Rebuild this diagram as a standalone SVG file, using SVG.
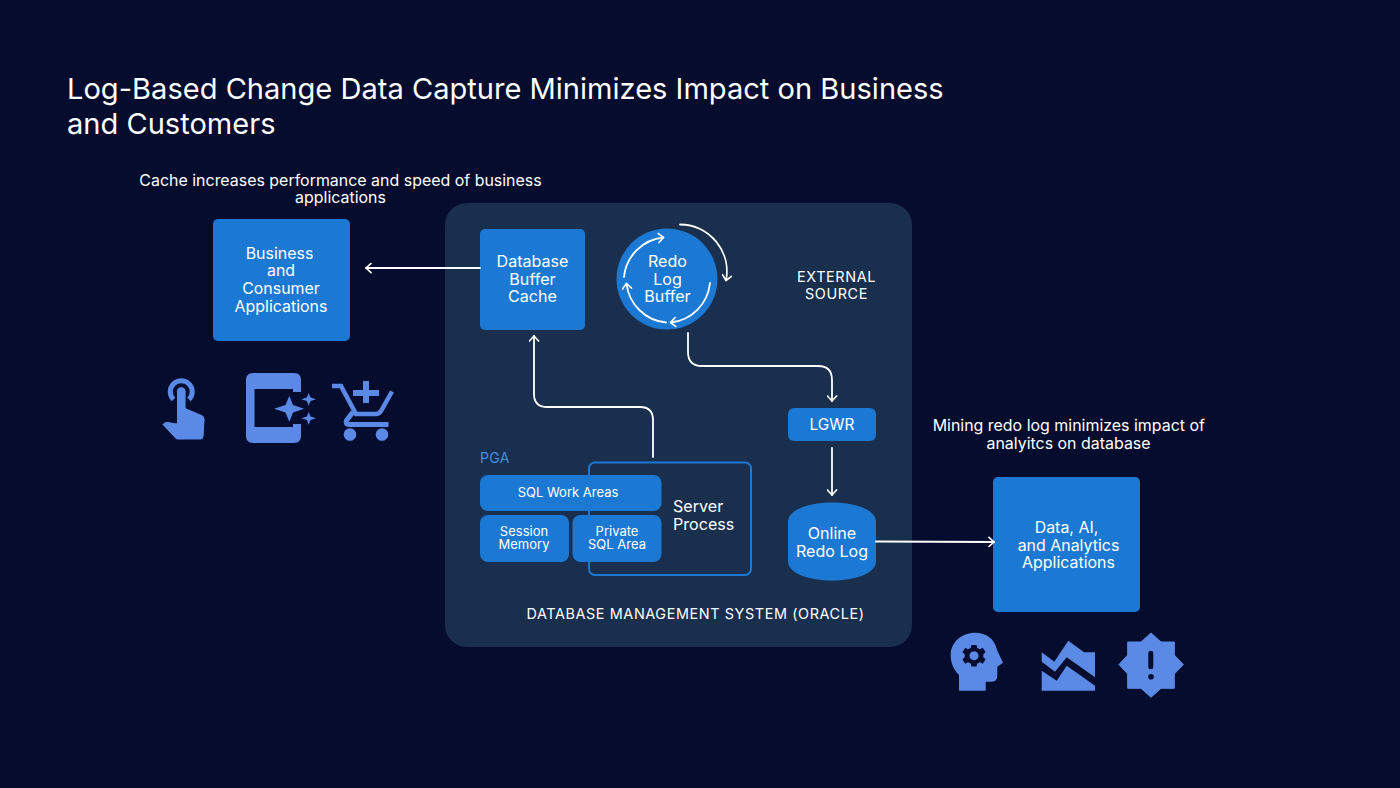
<svg xmlns="http://www.w3.org/2000/svg" width="1400" height="788" viewBox="0 0 1400 788">
<style>
text{font-family:Inter,"Noto Sans","Liberation Sans",sans-serif;fill:#fff;text-anchor:middle}
.box{fill:#1b79d3}
.n{font-size:15.95px}
.m{font-size:16.1px}
.s{font-size:13px}
.u{font-size:14.4px;letter-spacing:.6px}
.c{fill:none;stroke:#fff;stroke-width:1.8;stroke-linecap:round;stroke-linejoin:round}
.ic{fill:#5b8ae6}
.ch{fill:#060c2e}
</style>
<defs>
<marker id="a" viewBox="0 0 12 12" refX="11" refY="6" markerWidth="11" markerHeight="11" markerUnits="userSpaceOnUse" orient="auto"><path d="M5.5 1 L11 6 L5.5 11" fill="none" stroke="#fff" stroke-width="1.8" stroke-linecap="round" stroke-linejoin="round"/></marker>
</defs>
<rect width="1400" height="788" fill="#060c2e"/>
<text x="67" y="99" font-size="29.07" style="text-anchor:start">Log-Based Change Data Capture Minimizes Impact on Business</text>
<text x="67" y="134" font-size="29.07" style="text-anchor:start">and Customers</text>
<rect id="dbms" x="445" y="203" width="467" height="444" rx="22" fill="#1a2f4e"/>
<text x="340.500" y="186" class="n">Cache increases performance and speed of business</text>
<text x="340.500" y="203" class="n">applications</text>
<text x="1068.800" y="431" class="n">Mining redo log minimizes impact of</text>
<text x="1068.500" y="449" class="n">analyitcs on database</text>
<text x="836.500" y="282" class="u">EXTERNAL</text>
<text x="836.500" y="299" class="u">SOURCE</text>
<text x="695.500" y="619" class="u">DATABASE MANAGEMENT SYSTEM (ORACLE)</text>
<g id="apps"><rect class="box" x="213" y="219" width="137" height="122" rx="5"/>
<text x="279.500" y="259" class="n">Business</text><text x="281" y="276" class="n">and</text><text x="281" y="294" class="n">Consumer</text><text x="281" y="312" class="n">Applications</text></g>
<g id="buffer-cache"><rect class="box" x="480" y="229" width="105" height="101" rx="5"/>
<text x="532.500" y="267" class="m">Database</text><text x="532.500" y="285" class="m">Buffer</text><text x="532.500" y="302" class="m">Cache</text></g>
<g id="redo-buffer"><circle class="box" cx="667" cy="279" r="50.500"/>
<text x="667.500" y="267" class="m">Redo</text><text x="667.500" y="285" class="m">Log</text><text x="667.500" y="302" class="m">Buffer</text></g>
<g id="lgwr"><rect class="box" x="788" y="408" width="88" height="33" rx="6"/><text x="832" y="430" style="font-size:15.4px">LGWR</text></g>
<g id="online-redo"><path class="box" d="M788 522C788 496 876 496 876 522V561C876 587 788 587 788 561Z"/>
<text x="832" y="539" class="m">Online</text><text x="832" y="557" class="m">Redo Log</text></g>
<g id="analytics"><rect class="box" x="993" y="477" width="147" height="135" rx="5"/>
<text x="1066.500" y="533" class="n">Data, AI,</text><text x="1068.500" y="551" class="n">and Analytics</text><text x="1068.500" y="568" class="n">Applications</text></g>
<g id="server-process"><rect x="589" y="462.500" width="162" height="112.500" rx="6" fill="none" stroke="#1b79d3" stroke-width="2"/>
<text x="673" y="512" class="m" style="text-anchor:start">Server</text><text x="673" y="530" class="m" style="text-anchor:start">Process</text></g>
<text id="pga" x="480" y="463" font-size="14" letter-spacing=".3" style="text-anchor:start;fill:#3f8fe0">PGA</text>
<g id="sql-work"><rect class="box" x="480" y="475" width="181.500" height="36" rx="8"/><text x="568" y="497" class="s">SQL Work Areas</text></g>
<g id="session"><rect class="box" x="480" y="515" width="89" height="47" rx="8"/><text x="524" y="536" class="s">Session</text><text x="524" y="549" class="s">Memory</text></g>
<g id="private"><rect class="box" x="572.500" y="515" width="89" height="47" rx="8"/><text x="617" y="536" class="s">Private</text><text x="617" y="549" class="s">SQL Area</text></g>
<g id="connectors">
<path class="c" d="M480 268H366" marker-end="url(#a)"/>
<path class="c" d="M653 457V420Q653 407 640 407H547Q534 407 534 394V336" marker-end="url(#a)"/>
<path class="c" d="M688 333V352Q688 366 702 366H818Q832 366 832 380V401" marker-end="url(#a)"/>
<path class="c" d="M832 448V495" marker-end="url(#a)"/>
<path class="c" d="M876 541.500L994 542" marker-end="url(#a)"/>
<path class="c" d="M680 224.500A47 47 0 0 1 726 280.500" marker-end="url(#a)"/>
<path class="c" d="M624 277A44 44 0 0 1 663.500 237.500" marker-end="url(#a)"/>
<path class="c" d="M666 322.500A44 44 0 0 1 626.500 283.500" marker-end="url(#a)"/>
<path class="c" d="M710 283A44 44 0 0 1 670.500 322.500" marker-end="url(#a)"/>
</g>
<g id="icon-touch"><path d="M173.500 399.500A11 11 0 1 1 189 399.500" fill="none" stroke="#5b8ae6" stroke-width="5"/>
<path class="ic" d="M176.500 391.500a4.800 4.800 0 0 1 9.600 0V408l15.500 6.500q3.500 1.500 3.500 5l-1 16q-.5 4.500-4 4.500H178q-1.500 0-2.500-1L162 424.500l2-2q1.500-1.300 4-1l8.500 1.500z" stroke="#060c2e" stroke-width="1"/></g>
<g id="icon-device" class="ic"><path d="M253 373H294Q301 373 301 380V392H293V389H254.500V427H293V424H301V436Q301 443 294 443H253Q246 443 246 436V380Q246 373 253 373Z"/>
<path d="M289.300 396L293 405L304 408.700L293 412.500L289.300 421.700L285.500 412.500L274 408.700L285.500 405Z"/><path d="M308.700 393L310.500 397.500L316 399.300L310.500 401L308.700 405.700L306.900 401L301.500 399.300L306.900 397.500Z"/><path d="M308.700 412L310.500 416.500L316 418.300L310.500 420L308.700 424.700L306.900 420L301.500 418.300L306.900 416.500Z"/></g>
<g id="icon-cart"><path d="M332 386H341L356 414H376Q379 414 381 411L392 391.500" fill="none" stroke="#5b8ae6" stroke-width="4.500"/><path d="M353 412L346.500 420.500Q345 424.500 349 424.500H388.500" fill="none" stroke="#5b8ae6" stroke-width="5"/><path class="ic" d="M363 381H369V390H379V396H369V403H363V396H353V390H363Z"/><circle class="ic" cx="350" cy="434.500" r="6.300"/><circle class="ic" cx="382" cy="434.500" r="6.300"/></g>
<g id="icon-head"><path class="ic" d="M975 632.700C986 632.700 995 639 997 650L1003 662.700L997.300 666.700V676Q997.300 681.700 991.700 681.700H985.700V690.700H959V675C953 669 950.700 662 950.700 655C950.700 642 962 632.700 975 632.700Z"/>
<path class="ch" fill-rule="evenodd" d="M971.500 645h5l.8 3 2.700 1.200 2.800-1.400 2.800 4.400-2.300 2v3.100l2.300 2-2.800 4.400-2.800-1.400-2.700 1.200-.8 3h-5l-.8-3-2.700-1.200-2.800 1.400-2.800-4.400 2.300-2v-3.100l-2.300-2 2.800-4.400 2.800 1.400 2.700-1.200zm2.500 6.200a4.500 4.500 0 1 0 .01 0z"/></g>
<g id="icon-chart" class="ic"><path d="M1041.700 652.300L1054.300 661.700L1068.300 640.700L1084 652.300H1095V677.300L1066.700 657.300L1055 671.700L1041.700 661.700Z"/><path d="M1041.700 670.700L1056.700 680.700L1066.700 665.700L1095 685.700V690.700H1041.700Z"/></g>
<g id="icon-alert"><path class="ic" d="M1151 633L1161 642H1174.300V655L1183.300 664.500L1174.300 674V688.300H1161L1151 697.300L1141 688.300H1127.700V674L1119 664.500L1127.700 655V642H1141Z" stroke="#5b8ae6" stroke-width="1" stroke-linejoin="round"/>
<rect class="ch" x="1148.300" y="650.700" width="5" height="18.600" rx="2.500"/><circle class="ch" cx="1151" cy="676.700" r="2.800"/></g>
</svg>
